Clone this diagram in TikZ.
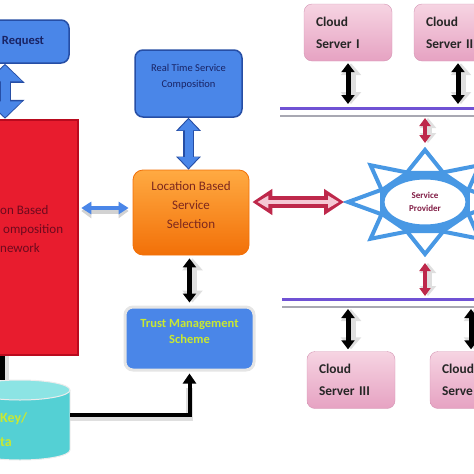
\documentclass[tikz,border=0pt]{standalone}
\usepackage{fontspec}
\setmainfont{Carlito}
\usetikzlibrary{arrows.meta,shapes.geometric,calc}
\definecolor{boxblue}{RGB}{74,134,232}
\definecolor{boxline}{RGB}{38,78,165}
\definecolor{navyblue}{RGB}{25,35,100}
\definecolor{framered}{RGB}{232,28,46}
\definecolor{framedark}{RGB}{185,10,30}
\definecolor{frametext}{RGB}{110,10,30}
\definecolor{orangetop}{RGB}{255,170,66}
\definecolor{orangebot}{RGB}{242,112,8}
\definecolor{orangetext}{RGB}{125,40,30}
\definecolor{limetext}{RGB}{200,232,50}
\definecolor{dbcyan}{RGB}{84,208,212}
\definecolor{dbcap}{RGB}{140,228,228}
\definecolor{pinktop}{RGB}{246,212,226}
\definecolor{pinkbot}{RGB}{230,162,194}
\definecolor{pinkline}{RGB}{212,150,180}
\definecolor{buspurple}{RGB}{112,82,212}
\definecolor{busgrey}{RGB}{168,168,178}
\definecolor{starblue}{RGB}{72,152,228}
\definecolor{provtext}{RGB}{130,30,70}
\definecolor{crimson}{RGB}{190,40,75}
\definecolor{pinkfill}{RGB}{245,200,212}

\begin{document}
\begin{tikzpicture}[x=1pt,y=-1pt,
  blockarrow/.style n args={3}{line width=#1,{Triangle[length=#2,width=#3]}-{Triangle[length=#2,width=#3]}},
  bluebox/.style={draw=boxline,line width=1.5pt,fill=boxblue,rounded corners=8pt},
  server/.style={draw=pinkline,top color=pinktop,bottom color=pinkbot,rounded corners=8pt,
    minimum width=88pt,minimum height=57pt,text width=64pt,align=left,
    font=\fontsize{13.4}{22}\selectfont\bfseries,text=black!85},
  blkshadow/.style={gray!25,blockarrow={9pt}{12pt}{20pt},transform canvas={xshift=3pt}},
  blkarrow/.style={black,blockarrow={5pt}{9pt}{13pt}},
  redarrow/.style={crimson,blockarrow={3.5pt}{8pt}{11pt}}]
\useasboundingbox (0,0) rectangle (474,474);
\clip (0,0) rectangle (474,474);

% left column
\node[bluebox,minimum width=92pt,minimum height=43pt,font=\fontsize{12.5}{15}\selectfont\bfseries,text=navyblue] (req) at (23,41.5) {Request};
\node[minimum width=108pt,minimum height=235pt,fill=framered,draw=framedark,line width=2.5pt] (frame) at (24,237.5) {};
\node[anchor=west,inner sep=0pt,align=left,font=\fontsize{13}{19}\selectfont,text=frametext] (frametxt) at (0,229) {on Based\\\hspace*{3pt}omposition\\nework};

\fill[dbcyan] (-30,390) rectangle (70,450);
\fill[dbcyan] (20,450) ellipse (50 and 10);
\draw[gray!15,line width=1pt] (70,390) -- (70,450) arc (0:180:50 and 10);
\filldraw[fill=dbcap,draw=gray!15,line width=1pt] (20,390) ellipse (50 and 10);
\node[minimum width=100pt,minimum height=80pt] (db) at (20,420) {};
\node[anchor=west,inner sep=0pt,align=left,font=\fontsize{14}{24}\selectfont\bfseries,text=limetext] (dbtxt) at (0,430) {Key/\\ta};

% middle column
\node[bluebox,minimum width=107pt,minimum height=67pt] (rtsc) at (188.5,83.5) {};
\node[align=center,font=\fontsize{10.5}{16}\selectfont,text=navyblue] (rtsctxt) at (188.5,77) {Real Time Service\\Composition};
\node[draw=orangebot,line width=0.8pt,top color=orangetop,bottom color=orangebot,rounded corners=10pt,minimum width=116pt,minimum height=85pt] (lbss) at (191,212.5) {};
\node[align=center,font=\fontsize{13}{19}\selectfont,text=orangetext] (lbsstxt) at (191,205) {Location Based\\Service\\Selection};
\node[draw=gray!20,line width=3pt,fill=boxblue,rounded corners=8pt,minimum width=129pt,minimum height=63pt] (trust) at (189.5,338.5) {};
\node[align=center,font=\fontsize{12.5}{16}\selectfont\bfseries,text=limetext] (trusttxt) at (189.5,331) {Trust Management\\Scheme};

% right column
\node[server] (cs1) at (348,32.5) {Cloud\\Server I};
\node[server] (cs2) at (458,32.5) {Cloud\\Server II};
\node[server] (cs3) at (351,380) {Cloud\\Server III};
\node[server] (cs4) at (474,380) {Cloud\\Serve};

\coordinate (busA) at (280,108);
\coordinate (busAg) at (280,116);
\coordinate (busB) at (282,299);
\coordinate (busBg) at (282,307);
\draw[buspurple,line width=3pt] (busA) -- (480,108);
\draw[busgrey,line width=2pt] (busAg) -- (480,116);
\draw[buspurple,line width=3pt] (busB) -- (480,299);
\draw[busgrey,line width=2pt] (busBg) -- (480,307);

\begin{scope}[shift={(425,202)}]
  \draw[starblue,line width=4pt,fill=white,line join=miter] (337.5:47 and 32)
    \foreach \a in {0,45,...,315} {-- (\a:77 and 52) -- ({\a+22.5}:47 and 32)} -- cycle;
  \filldraw[starblue,line width=3pt] (22.5:47 and 32)
    \foreach \a in {67.5,112.5,...,337.5} {-- (\a:47 and 32)} -- cycle;
\end{scope}
\node[ellipse,draw=starblue,line width=3pt,fill=white,minimum width=84pt,minimum height=48pt,
  align=center,font=\fontsize{9}{13}\selectfont\bfseries,text=provtext] (sp) at (425,202) {Service\\Provider};
\coordinate (spW) at ($(sp)+(-81,0)$);
\coordinate (spN) at ($(sp)+(0,-56)$);
\coordinate (spS) at ($(sp)+(0,56)$);

% connectors
\draw[boxline,blockarrow={12pt}{19pt}{38pt}] (req.south -| 5,0) -- (frame.north -| 5,0);
\draw[boxblue,blockarrow={9pt}{16pt}{33pt},shorten <=1.5pt,shorten >=1.5pt] (req.south -| 5,0) -- (frame.north -| 5,0);

\draw[boxline,blockarrow={11pt}{13pt}{24pt}] (rtsc.south) -- (rtsc.south |- lbss.north);
\draw[boxblue,blockarrow={8pt}{11pt}{20pt},shorten <=1.5pt,shorten >=1.5pt] (rtsc.south) -- (rtsc.south |- lbss.north);

\coordinate (fl) at (frame.east |- 0,208);
\coordinate (ol) at (lbss.west |- 0,208);
\draw[gray!35,blockarrow={5pt}{10pt}{14pt},shorten <=2pt,shorten >=4pt,transform canvas={yshift=-3pt}] (fl) -- (ol);
\draw[boxblue,blockarrow={4pt}{10pt}{12pt},shorten <=2pt,shorten >=4pt] (fl) -- (ol);

\draw[blkshadow,shorten <=3pt,shorten >=3pt] (trust.north |- lbss.south) -- (trust.north);
\draw[blkarrow,shorten <=3pt,shorten >=3pt] (trust.north |- lbss.south) -- (trust.north);

\draw[gray!25,line width=8pt,transform canvas={xshift=3pt}] (frame.south -| 2,0) -- (db.north -| 2,0);
\draw[black,line width=5pt] (frame.south -| 2,0) -- (db.north -| 2,0);
\draw[gray!25,line width=7pt,transform canvas={yshift=-2pt}] ([yshift=5pt]db.east) -| ([yshift=-14pt]trust.south);
\draw[black,line width=4pt,-{Triangle[length=10pt,width=13pt]}] ([yshift=5pt]db.east) -| ([yshift=-2pt]trust.south);

\draw[crimson,blockarrow={12pt}{20pt}{25pt},shorten <=3pt] (lbss.east |- spW) -- (spW);
\draw[pinkfill,blockarrow={4pt}{11pt}{12pt},shorten <=8pt,shorten >=5pt] (lbss.east |- spW) -- (spW);

\foreach \s in {cs1,cs2} {
  \draw[blkshadow,shorten <=2pt,shorten >=4pt] (\s.south) -- (\s.south |- busA);
  \draw[blkarrow,shorten <=2pt,shorten >=4pt] (\s.south) -- (\s.south |- busA);
}
\foreach \s in {cs3,cs4} {
  \draw[blkshadow,shorten <=2pt,shorten >=2pt] ([xshift=-3pt]\s.north) -- ([xshift=-3pt]\s.north |- busBg);
  \draw[blkarrow,shorten <=2pt,shorten >=2pt] ([xshift=-3pt]\s.north) -- ([xshift=-3pt]\s.north |- busBg);
}

\draw[gray!25,blockarrow={7pt}{10pt}{16pt},shorten <=2pt,shorten >=3pt,transform canvas={xshift=3pt}] (spN |- busAg) -- (spN);
\draw[redarrow,shorten <=2pt,shorten >=3pt] (spN |- busAg) -- (spN);
\draw[gray!25,blockarrow={7pt}{10pt}{16pt},shorten <=5pt,shorten >=3pt,transform canvas={xshift=3pt}] (spS) -- (spS |- busB);
\draw[redarrow,shorten <=5pt,shorten >=3pt] (spS) -- (spS |- busB);
\end{tikzpicture}
\end{document}
